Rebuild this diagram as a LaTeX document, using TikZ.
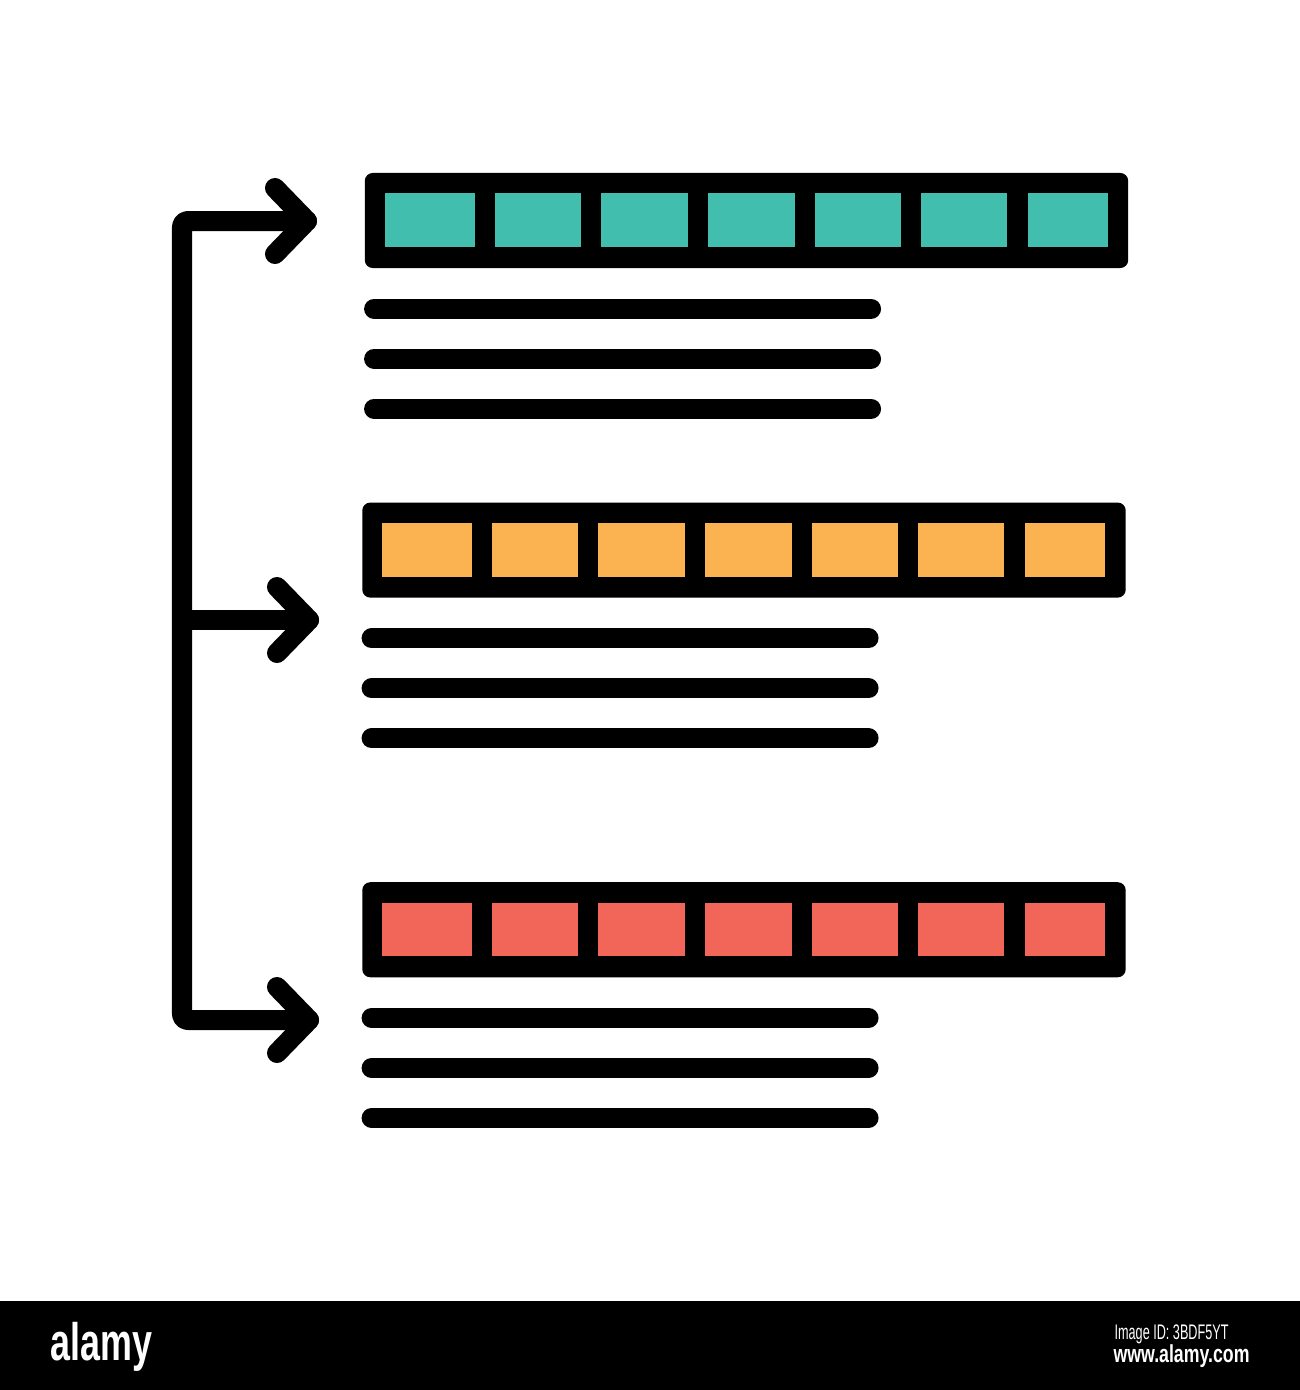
\documentclass[tikz,border=0pt]{standalone}
\usepackage{fontspec}
\newfontfamily\wmfont{Liberation Sans}
\usetikzlibrary{positioning, calc}
\definecolor{tealcell}{RGB}{66,190,174}
\definecolor{orangecell}{RGB}{251,178,80}
\definecolor{redcell}{RGB}{241,102,88}
\tikzstyle{bar} = [rectangle, rounded corners=0.08cm, fill=black, minimum width=7.63cm, minimum height=0.95cm, inner sep=0pt]
\tikzstyle{cell} = [rectangle, minimum height=0.535cm, inner sep=0pt, anchor=north west]
\tikzstyle{textline} = [line width=0.2cm, line cap=round]
\tikzstyle{spine} = [line width=0.2cm, line cap=round, line join=round]
\tikzstyle{wmtext} = [text=white, inner sep=0pt]

\begin{document}
\begin{tikzpicture}[x=0.01cm, y=-0.01cm]
\useasboundingbox (0,0) rectangle (1300,1390);
\fill[white] (0,0) rectangle (1300,1300);
% the three bars
\node (top) [bar] at (746.5,220.5) {};
\node (mid) [bar, below=2.33cm of top, xshift=-0.025cm] {};
\node (bot) [bar, below=2.83cm of mid] {};
\foreach \bar/\col in {top/tealcell, mid/orangecell, bot/redcell}
  \foreach \l/\r [count=\i] in {20/110, 130/216, 236/323, 343/430, 450/536, 556/642, 663/743}
    \node (\bar-\i) [cell, fill=\col, minimum width={(\r-\l)*0.01cm}] at ($(\bar.north west)+(\l,20.5)$) {};
% text lines under each bar
\foreach \bar in {top, mid, bot}
  \foreach \k in {1,2,3}
    \draw[textline] ($(\bar.south west)+(10,{50*\k-10})$) -- ++(497,0);
% branching arrow
\coordinate (tip1) at (307,221);
\coordinate (tip2) at (309,620);
\coordinate (tip3) at (309,1020);
\coordinate (knee1) at (182,221);
\coordinate (knee2) at (182,620);
\coordinate (knee3) at (182,1020);
\draw[spine, rounded corners=0.06cm] (tip1) -- (knee1) -- (knee3) -- (tip3);
\draw[spine] (knee2) -- (tip2);
\foreach \t in {tip1, tip2, tip3}
  \draw[spine] ($(\t)+(-32,-33)$) -- (\t) -- ($(\t)+(-32,33)$);
% footer band
\node (band) [fill=black, minimum width=13.02cm, minimum height=0.9cm, inner sep=0pt, anchor=north west] at (-1,1300) {};
\node (logo) [wmtext, font=\wmfont\bfseries\fontsize{15}{15}\selectfont, xscale=0.68, anchor=base west] at (50,1360) {alamy};
\node (imgid) [wmtext, font=\wmfont\fontsize{6}{6}\selectfont, xscale=0.6, anchor=base east] at (1229,1339) {Image ID: 3BDF5YT};
\node (site) [wmtext, font=\wmfont\bfseries\fontsize{7}{7}\selectfont, xscale=0.72, anchor=base east] at (1250,1362) {www.alamy.com};
\end{tikzpicture}
\end{document}
